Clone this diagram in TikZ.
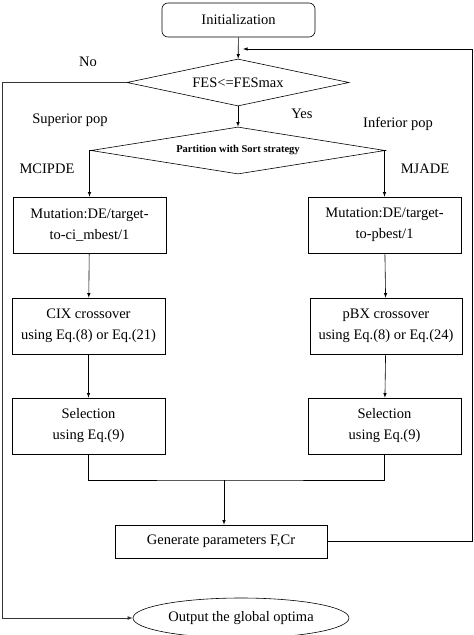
\documentclass[tikz,border=0pt]{standalone}
\usepackage{fontspec}
\setmainfont{Liberation Serif}
\usepackage{tikz}
\usetikzlibrary{positioning}
\usetikzlibrary{arrows}
\usetikzlibrary{shapes}
\usetikzlibrary{shapes.geometric}

\begin{document}
\begin{tikzpicture}[x=1pt, y=-1pt, >=latex, semithick,
font=\fontsize{14.5}{21}\selectfont,
box/.style={rectangle,draw,align=center,minimum width=153pt,minimum height=56pt,inner sep=2pt},
dec/.style={diamond,draw,inner sep=0pt,minimum height=47pt},
lbl/.style={inner sep=0pt}]

\useasboundingbox (0,0) rectangle (474,635);

\node [rectangle,rounded corners=6pt,draw,minimum width=153pt,minimum height=34pt] (init) at (238.5,20) {Initialization};

\node [dec,aspect=4.7,minimum width=222pt] (fes) at (238,82.5) {FES<=FESmax};
\node [dec,aspect=6.3,minimum width=294pt,font=\fontsize{10.5}{12}\selectfont\bfseries] (part) at (238,150.5) {Partition with Sort strategy};

\node [box] (mutl) at (89.5,225) {Mutation:DE/target-\\to-ci\_mbest/1};
\node [box] (mutr) at (384.5,225) {Mutation:DE/target-\\to-pbest/1};
\node [box] (cixl) at (88.5,326) {CIX crossover\\using Eq.(8) or Eq.(21)};
\node [box,minimum width=152pt] (cixr) at (386,326) {pBX crossover\\using Eq.(8) or Eq.(24)};
\node [box] (sell) at (88.5,426) {Selection\\using Eq.(9)};
\node [box] (selr) at (384.5,426) {Selection\\using Eq.(9)};
\node [box,minimum width=212pt,minimum height=33pt] (gen) at (221,541.5) {Generate parameters F,Cr};
\node [ellipse,draw,minimum width=216pt,minimum height=40pt] (out) at (241,618) {Output the global optima};

% labels
\node [lbl] (no) at (88,62) {No};
\node [lbl] (yes) at (302,114) {Yes};
\node [lbl] (sup) at (70,120) {Superior pop};
\node [lbl] (inf) at (398,124) {Inferior pop};
\node [lbl] (mci) at (47,169) {MCIPDE};
\node [lbl] (mja) at (425,169) {MJADE};

\coordinate (back) at (243,49);
\coordinate (rt) at (472,49);
\coordinate (lf) at (2,618);
\coordinate (mrg) at (224,480);

\draw [->] (init) -- (fes);
\draw [->] (fes) -- (part);
\draw [->] (part.west) -| (mutl.north);
\draw [->] (part.east) -| (mutr.north);

\draw [->] (mutl) -- (cixl);
\draw [->] (cixl) -- (sell);
\draw [->] (mutr) -- (cixr);
\draw [->] (cixr) -- (selr);

\draw (sell.south) |- (mrg) -| (selr.south);
\draw [->] (mrg) -- (mrg |- gen.north);

\draw [->] (gen.east) -| (rt) -- (back);
\draw [->,thick,black!80] (fes.west) -| (lf) -- (out.west);

\end{tikzpicture}
\end{document}
